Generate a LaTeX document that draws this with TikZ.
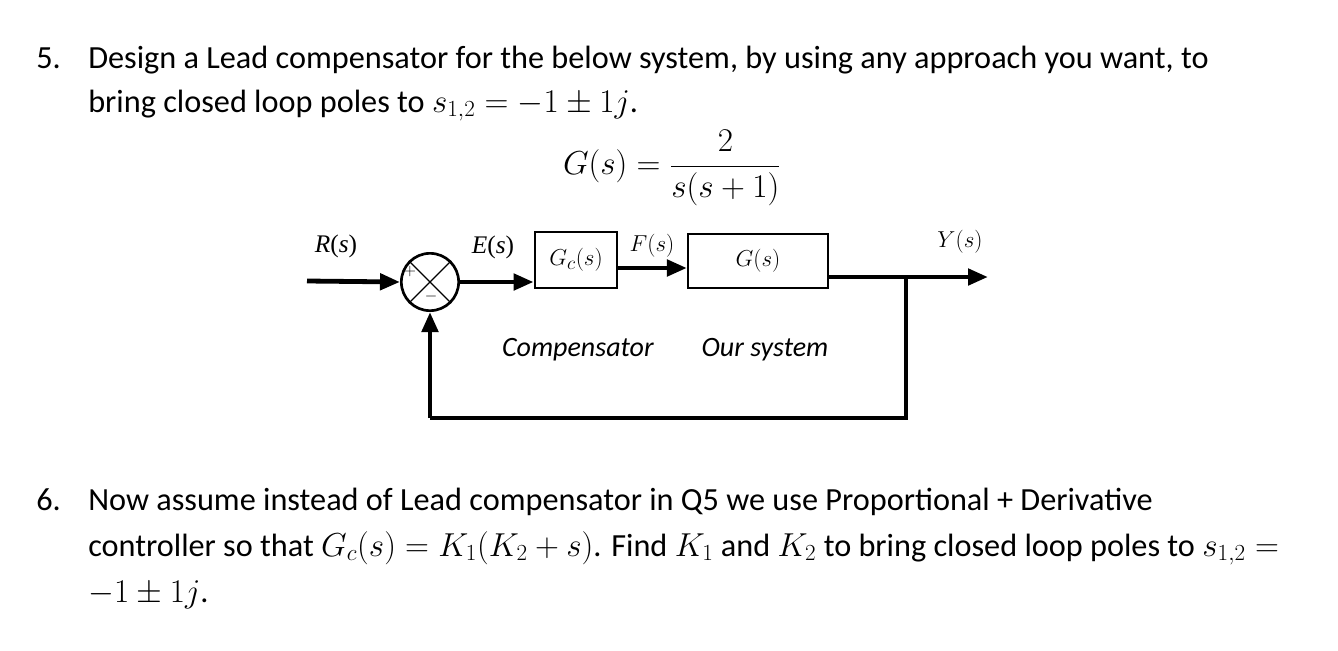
\documentclass[tikz,border=0pt]{standalone}
\usepackage{fontspec}
\setmainfont{Carlito}
\usetikzlibrary{positioning,arrows.meta,calc}
\tikzset{
  txt/.style={anchor=base west, inner sep=0pt, font=\fontsize{24.2}{28}\selectfont},
  blk/.style={draw, line width=1.6pt, inner sep=0pt, font=\fontsize{19}{22}\selectfont},
  sig/.style={line width=3.6pt, -{Triangle[length=15pt,width=12pt]}},
  wire/.style={line width=3.6pt},
  lbl/.style={inner sep=0pt, font=\fontsize{19}{22}\selectfont}
}
\begin{document}
\begin{tikzpicture}[x=0.75pt,y=-0.75pt]
\useasboundingbox (0,0) rectangle (1338,650);
% question 5
\node[txt] (q5n) at (36,68) {5.};
\node[txt] (q5a) at (88,68) {Design a Lead compensator for the below system, by using any approach you want, to};
\node[txt] (q5b) at (88,112) {bring closed loop poles to $s_{1,2}=-1\pm 1j$.};
\node[txt, anchor=center] (geq) at (672,168) {$\displaystyle G(s)=\frac{2}{s(s+1)}$};
% block diagram
\node[blk, circle, minimum size=43pt, line width=2pt] (sum) at (430,282) {};
\draw[line width=1pt] (sum.north west) -- (sum.south east) (sum.north east) -- (sum.south west);
\node[lbl, font=\fontsize{12}{12}\selectfont] (plus) at (410,271) {$+$};
\node[lbl, font=\fontsize{12}{12}\selectfont] (minus) at (431,296) {$-$};
\node[blk, minimum width=62pt, minimum height=42pt] (gc) at (576,260) {$G_c(s)$};
\node[blk, minimum width=105pt, minimum height=41pt] (g) at (758,261) {$G(s)$};
\coordinate (rin) at (307,281);
\coordinate (yout) at (988,277);
\coordinate (br) at (906,277);
\coordinate (bl) at (906,418);
\coordinate (fb) at (430,418);
\draw[sig] (rin) -- (sum.west);
\draw[sig] (sum.east) -- (sum.east -| gc.west);
\draw[sig] (gc.east |- 0,268) -- (g.west |- 0,268);
\draw[sig] (g.east |- yout) -- (yout);
\draw[wire] (br) -- (bl) -- (fb);
\draw[sig] (fb) -- (sum.south);
\node[lbl] (rl) at (336,246) {\fontspec{Liberation Serif}\textit{R}(\textit{s})};
\node[lbl] (el) at (493,247) {\fontspec{Liberation Serif}\textit{E}(\textit{s})};
\node[lbl] (fl) at (652,246) {$F(s)$};
\node[lbl] (yl) at (960,242) {$Y(s)$};
\node[lbl, font=\fontsize{21}{24}\selectfont] (comp) at (578,350) {\textit{Compensator}};
\node[lbl, font=\fontsize{21}{24}\selectfont] (ours) at (765,350) {\textit{Our system}};
% question 6
\node[txt] (q6n) at (36,510) {6.};
\node[txt] (q6a) at (88,510) {Now assume instead of Lead compensator in Q5 we use Proportional + Derivative};
\node[txt] (q6b) at (88,556) {controller so that $G_c(s)=K_1(K_2+s)$. Find $K_1$ and $K_2$ to bring closed loop poles to $s_{1,2}=$};
\node[txt] (q6c) at (88,602) {$-1\pm 1j$.};
\end{tikzpicture}
\end{document}
